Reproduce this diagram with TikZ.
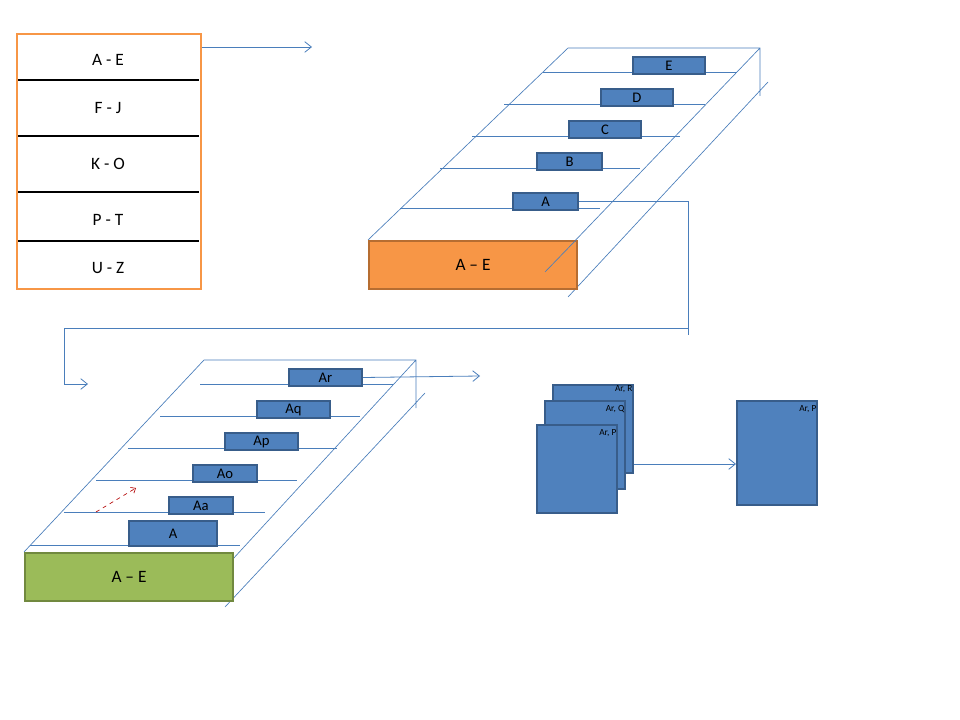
\documentclass[tikz,border=0pt]{standalone}
\usepackage{fontspec}
\setmainfont{Carlito}
\usetikzlibrary{positioning,arrows.meta}
\definecolor{tabblue}{HTML}{4F81BD}
\definecolor{tabedge}{HTML}{385D8A}
\definecolor{linkblue}{HTML}{4A7EBB}
\definecolor{rangeorange}{HTML}{F79646}
\definecolor{orangeedge}{HTML}{B66D31}
\definecolor{rangegreen}{HTML}{9BBB59}
\definecolor{greenedge}{HTML}{71893F}
\begin{document}
\begin{tikzpicture}[x=0.75pt,y=-0.75pt,
    idxtab/.style={draw=tabedge, fill=tabblue, line width=1.5pt, anchor=north west,
                inner sep=0pt, font=\fontsize{11}{11}\selectfont},
    sheet/.style={draw=tabedge, fill=tabblue, line width=1.5pt, anchor=north west,
                 minimum width=60pt},
    sheetlbl/.style={anchor=north east, inner sep=1pt, font=\fontsize{7}{7}\selectfont},
    rangebox/.style={line width=1.5pt, anchor=north west, minimum width=156pt,
                  minimum height=36pt, font=\fontsize{13}{13}\selectfont},
    tray/.style={draw=linkblue, line width=0.5pt},
    link/.style={draw=linkblue, line width=0.6pt, -{Straight Barb[length=5pt,width=8pt]}}]
    % Canvas
    \useasboundingbox (0,0) rectangle (960,720);
    % Index list
    \node[draw=rangeorange, line width=1.5pt, anchor=north west, minimum width=138pt,
          minimum height=191pt] (lst) at (16,33) {};
    \foreach \y in {80,136,192,241}
        \draw[line width=1.5pt] (18,\y) -- (199,\y);
    \foreach \t/\y in {A - E/60, F - J/108, K - O/164, P - T/220, U - Z/268}
        \node[font=\fontsize{13}{13}\selectfont] at (108,\y) {\t};
    \coordinate (lstout) at (312,47);
    \draw[link] (lst.north east |- 0,47) -- (lstout);
    % Upper tray
    \draw[tray] (368,240) -- (568,48) -- (760,48) -- (760,96)
                (760,48) -- (545,272)
                (568,297) -- (768,82);
    \foreach \xa/\xb/\y in {400/600/208, 440/640/168, 472/680/136, 504/705/104, 543/737/72}
        \draw[tray] (\xa,\y) -- (\xb,\y);
    \node[rangebox, draw=orangeedge, fill=rangeorange] (upper) at (368,240) {A -- E};
    \draw[tray] (545,272) -- (576,240);
    \node[idxtab, minimum width=48.75pt, minimum height=12.75pt] (ta) at (512,192) {A};
    \node[idxtab, minimum width=48.75pt, minimum height=12.75pt] (tb) at (536,152) {B};
    \node[idxtab, minimum width=54pt, minimum height=12.75pt] (tc) at (568,120) {C};
    \node[idxtab, minimum width=54pt, minimum height=12.75pt] (td) at (600,88) {D};
    \node[idxtab, minimum width=54pt, minimum height=12.75pt] (te) at (632,56) {E};
    % Link down to the lower tray
    \coordinate (turn) at (688,335);
    \coordinate (lowin) at (88,384);
    \draw[linkblue, line width=0.6pt] (ta.east) -| (turn);
    \draw[link] (688,328) -- (64,328) |- (lowin);
    % Lower tray
    \draw[tray] (24,552) -- (204,360) -- (416,360) -- (416,408)
                (416,360) -- (232,560)
                (225,607) -- (425,393);
    \foreach \xa/\xb/\y in {30/240/545, 64/265/512, 96/297/480, 128/337/448, 160/360/416, 200/393/384}
        \draw[tray] (\xa,\y) -- (\xb,\y);
    \node[rangebox, draw=greenedge, fill=rangegreen] (lower) at (24,552) {A -- E};
    \node[idxtab, minimum width=66pt, minimum height=18.75pt] (la) at (128,520) {A};
    \node[idxtab, minimum width=48pt, minimum height=12.75pt] (laa) at (168,496) {Aa};
    \node[idxtab, minimum width=48pt, minimum height=12.75pt] (lao) at (192,464) {Ao};
    \node[idxtab, minimum width=54.75pt, minimum height=12.75pt] (lap) at (224,432) {Ap};
    \node[idxtab, minimum width=54.75pt, minimum height=12.75pt] (laq) at (256,400) {Aq};
    \node[idxtab, minimum width=54.75pt, minimum height=12.75pt] (lar) at (288,368) {Ar};
    \coordinate (hint0) at (96,512);
    \coordinate (hint1) at (136,488);
    \draw[red!70!black, dashed, line width=0.5pt, -{Straight Barb[length=3pt,width=5pt]}] (hint0) -- (hint1);
    \coordinate (arout) at (480,376);
    \draw[link] (lar.east) -- (arout);
    % Pages
    \node[sheet, minimum height=66pt] (pr) at (552,384) {};
    \node[sheetlbl] at (pr.north east) {Ar, R};
    \node[sheet, minimum height=66pt] (pq) at (544,400) {};
    \node[sheetlbl] at ([yshift=-3pt]pq.north east) {Ar, Q};
    \node[sheet, minimum height=66pt] (pp) at (536,424) {};
    \node[sheetlbl] at ([yshift=-3pt]pp.north east) {Ar, P};
    \node[sheet, minimum height=78pt] (res) at (736,400) {};
    \node[sheetlbl] at ([yshift=-3pt]res.north east) {Ar, P};
    \draw[link] (pr.east |- 0,464) -- (res.west |- 0,464);
\end{tikzpicture}
\end{document}
